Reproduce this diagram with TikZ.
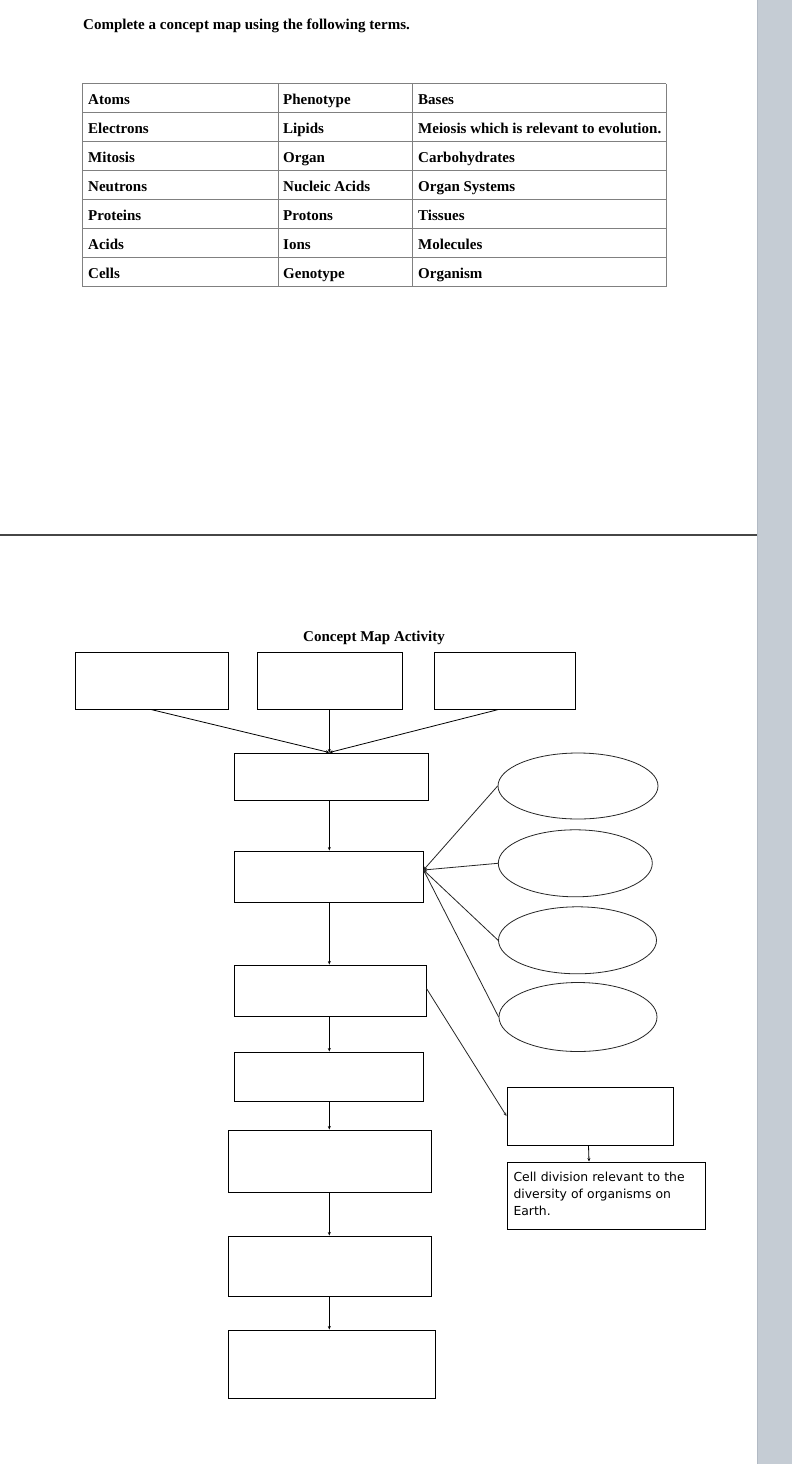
\documentclass[tikz,border=0pt]{standalone}
\usepackage{fontspec}
\setmainfont{Liberation Serif}
\newfontfamily\boxfont{DejaVu Sans}
\usetikzlibrary{shapes.geometric,arrows.meta}
\definecolor{sidebar}{RGB}{197,204,212}
\definecolor{sideedge}{RGB}{178,186,196}
\definecolor{rulegray}{RGB}{70,70,70}
\definecolor{gridgray}{RGB}{128,128,128}
\tikzset{
  cbox/.style={draw=black, line width=1pt, rectangle, inner sep=0pt},
  cell/.style={font=\fontsize{15}{18}\selectfont\bfseries, inner sep=0pt, anchor=base west},
  oval/.style={draw=black!85, line width=0.8pt, ellipse, inner sep=0pt},
  arr/.style={draw=black, line width=0.8pt, -{Stealth[length=3.5pt,width=3pt]}},
  link/.style={draw=black!85, line width=0.8pt},
  headtxt/.style={font=\fontsize{15}{18}\selectfont\bfseries, inner sep=0pt}
}
\begin{document}
\begin{tikzpicture}[x=1pt,y=-1pt]
\useasboundingbox (0,0) rectangle (792,1464);
\fill[white] (0,0) rectangle (792,1464);
\fill[sidebar] (757,0) rectangle (792,1464);
\draw[sideedge, line width=1pt] (757.5,0) -- (757.5,1464);

% title
\node[headtxt, anchor=base west] (title) at (83,30) {Complete a concept map using the following terms.};

% table grid
\foreach \k in {0,...,7} {
  \draw[gridgray, line width=0.9pt] (82,83.5+29*\k) -- (666,83.5+29*\k);
}
\foreach \xx in {82,278,412,666} {
  \draw[gridgray, line width=0.9pt] (\xx,83.5) -- (\xx,286.5);
}
\foreach \r/\a/\b/\c in {1/Atoms/Phenotype/Bases,
  2/Electrons/Lipids/Meiosis which is relevant to evolution.,
  3/Mitosis/Organ/Carbohydrates,
  4/Neutrons/Nucleic Acids/Organ Systems,
  5/Proteins/Protons/Tissues,
  6/Acids/Ions/Molecules,
  7/Cells/Genotype/Organism} {
  \pgfmathsetmacro{\yy}{75.5+29*\r}
  \node[cell] (t\r a) at (88,\yy) {\a};
  \node[cell] (t\r b) at (283,\yy) {\b};
  \node[cell] (t\r c) at (418,\yy) {\c};
}

% separator rule
\draw[rulegray, line width=1.3pt] (0,535) -- (757,535);

% concept map heading
\node[headtxt, anchor=base] (cmtitle) at (374,641) {Concept Map Activity};

% boxes
\node[cbox, minimum width=153pt, minimum height=57pt] (a) at (151.5,680.5) {};
\node[cbox, minimum width=145pt, minimum height=57pt] (b) at (329.5,680.5) {};
\node[cbox, minimum width=141pt, minimum height=57pt] (c) at (504.5,680.5) {};
\node[cbox, minimum width=194pt, minimum height=47pt] (d) at (331,776.5) {};
\node[cbox, minimum width=189pt, minimum height=51pt] (e) at (328.5,876.5) {};
\node[cbox, minimum width=192pt, minimum height=51pt] (f) at (330,990.5) {};
\node[cbox, minimum width=189pt, minimum height=49pt] (g) at (328.5,1076.5) {};
\node[cbox, minimum width=203pt, minimum height=62pt] (h) at (329.5,1161) {};
\node[cbox, minimum width=203pt, minimum height=60pt] (i) at (329.5,1266) {};
\node[cbox, minimum width=207pt, minimum height=68pt] (j) at (331.5,1364) {};
\node[cbox, minimum width=166pt, minimum height=58pt] (k) at (590,1116) {};
\node[cbox, minimum width=198pt, minimum height=67pt] (l) at (606,1195.5) {};
\node[font=\boxfont\fontsize{12.4}{17}\selectfont, anchor=north west, inner sep=0pt, align=left, text width=190pt] (ltxt) at (513.3,1171.5)
  {Cell division relevant to the\\diversity of organisms on\\Earth.};

% ellipses
\node[oval, minimum width=160pt, minimum height=66pt] (e1) at (578,786) {};
\node[oval, minimum width=154pt, minimum height=67pt] (e2) at (575.3,863.3) {};
\node[oval, minimum width=158pt, minimum height=67pt] (e3) at (577.5,940.3) {};
\node[oval, minimum width=158pt, minimum height=69pt] (e4) at (578,1017) {};

% spine
\coordinate (sp) at (329.3,0);
\coordinate (hub) at ([yshift=6.5pt]e.east);

% connectors
\draw[arr] ([xshift=-0.5pt]a.south) -- (sp |- d.north);
\draw[arr] (sp |- b.south) -- (sp |- d.north);
\draw[arr] ([xshift=-6pt]c.south) -- (sp |- d.north);
\draw[arr] (sp |- d.south) -- (sp |- e.north);
\draw[arr] (sp |- e.south) -- (sp |- f.north);
\draw[arr] (sp |- f.south) -- (sp |- g.north);
\draw[arr] (sp |- g.south) -- (sp |- h.north);
\draw[arr] (sp |- h.south) -- (sp |- i.north);
\draw[arr] (sp |- i.south) -- (sp |- j.north);

\draw[link, -{Stealth[length=3.5pt,width=3pt]}] (e1.west) -- (hub);
\draw[link, -{Stealth[length=3.5pt,width=3pt]}] (e2.west) -- (hub);
\draw[link, -{Stealth[length=3.5pt,width=3pt]}] (e3.west) -- (hub);
\draw[link, -{Stealth[length=3.5pt,width=3pt]}] (e4.west) -- (hub);

\draw[link, -{Stealth[length=3.5pt,width=3pt]}] ([yshift=2pt]f.east) -- (k.west);
\draw[arr] ([xshift=-1.5pt]k.south) -- ([xshift=-1pt]k.south |- l.north);
\end{tikzpicture}
\end{document}
